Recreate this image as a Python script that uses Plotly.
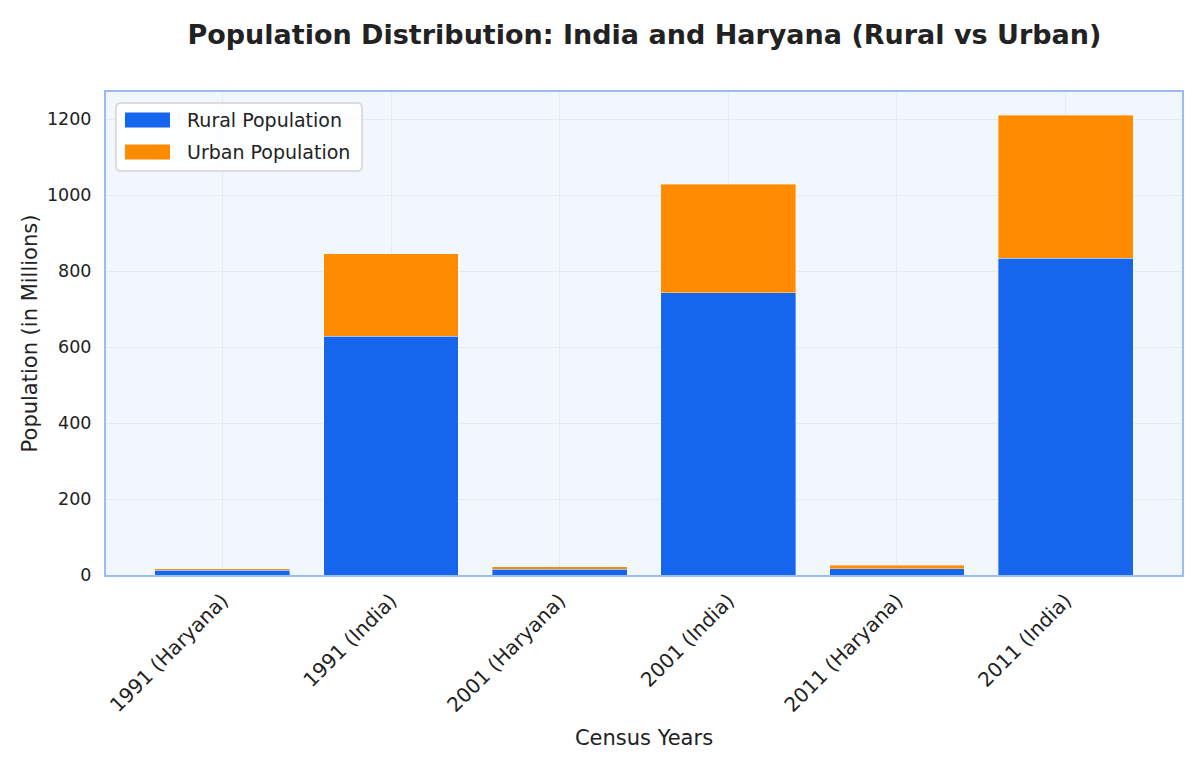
import plotly.graph_objects as go

categories = ["1991 (Haryana)", "1991 (India)", "2001 (Haryana)", "2001 (India)", "2011 (Haryana)", "2011 (India)"]
rural = [12.4, 628.7, 15.0, 742.6, 16.5, 833.7]
urban = [4.1, 217.6, 6.1, 286.1, 8.8, 377.1]
series_names = ["Rural Population", "Urban Population"]
colors = ["#1565ED", "#FF8C00"]

FONT = "DejaVu Sans"
TXT = "#222222"

W, H = 1200, 766
L, R, T, B = 106, 18, 92, 191
PW, PH = W - L - R, H - T - B


def px2paper(x, y):
    return (x - L) / PW, (H - B - y) / PH


fig = go.Figure()
for vals, name, col in zip([rural, urban], series_names, colors):
    fig.add_trace(go.Bar(x=categories, y=vals, name=name, showlegend=False,
                         marker=dict(color=col, line=dict(color="rgba(255,255,255,0.6)", width=0.6))))

# legend box (rounded) in paper coordinates
bx0, by0 = px2paper(116, 171)
bx1, by1 = px2paper(362, 103)
rx, ry = 5 / PW, 5 / PH
path = (f"M {bx0+rx},{by0} L {bx1-rx},{by0} Q {bx1},{by0} {bx1},{by0+ry} "
        f"L {bx1},{by1-ry} Q {bx1},{by1} {bx1-rx},{by1} L {bx0+rx},{by1} "
        f"Q {bx0},{by1} {bx0},{by1-ry} L {bx0},{by0+ry} Q {bx0},{by0} {bx0+rx},{by0} Z")
shapes = [dict(type="path", xref="paper", yref="paper", path=path,
               fillcolor="rgba(255,255,255,0.8)", line=dict(color="#D4D4D4", width=1.5))]
annotations = []
for i, (name, col) in enumerate(zip(series_names, colors)):
    cy = 120 + 32 * i
    px0, py0 = px2paper(125, cy + 7.5)
    px1, py1 = px2paper(170, cy - 7.5)
    shapes.append(dict(type="rect", xref="paper", yref="paper", x0=px0, x1=px1, y0=py0, y1=py1,
                       fillcolor=col, line=dict(width=0)))
    tx, ty = px2paper(185, cy)
    annotations.append(dict(xref="paper", yref="paper", x=tx, y=ty, xanchor="left", yanchor="middle",
                            text=name, showarrow=False, font=dict(size=19, family=FONT, color=TXT)))

fig.update_layout(
    barmode="stack",
    bargap=0.2,
    width=W, height=H,
    margin=dict(l=L, r=R, t=T, b=B),
    paper_bgcolor="white",
    plot_bgcolor="#F2F7FE",
    font=dict(family=FONT, color=TXT, size=17),
    title=dict(text="<b>Population Distribution: India and Haryana (Rural vs Urban)</b>",
               x=0.537, xanchor="center", y=0.955, yanchor="middle",
               font=dict(size=27, family=FONT, color=TXT)),
    showlegend=False,
    shapes=shapes,
    annotations=annotations,
)
fig.update_xaxes(
    range=[-0.69, 5.69],
    tickangle=-45,
    tickfont=dict(size=20),
    showgrid=True, gridcolor="#E3EBF8", gridwidth=1,
    showline=True, linecolor="#9BBCF0", linewidth=2, mirror=True,
    ticks="outside", ticklen=4, tickcolor="rgba(0,0,0,0)",
    title=dict(text="Census Years", font=dict(size=21), standoff=14),
)
fig.update_yaxes(
    range=[0, 1271.5],
    tickvals=[0, 200, 400, 600, 800, 1000, 1200],
    tickfont=dict(size=17.5),
    showgrid=True, gridcolor="#E3EBF8", gridwidth=1,
    showline=True, linecolor="#9BBCF0", linewidth=2, mirror=True,
    zeroline=False,
    ticks="outside", ticklen=9, tickcolor="rgba(0,0,0,0)",
    title=dict(text="Population (in Millions)", font=dict(size=21), standoff=4),
)

fig.write_html("out.html")
